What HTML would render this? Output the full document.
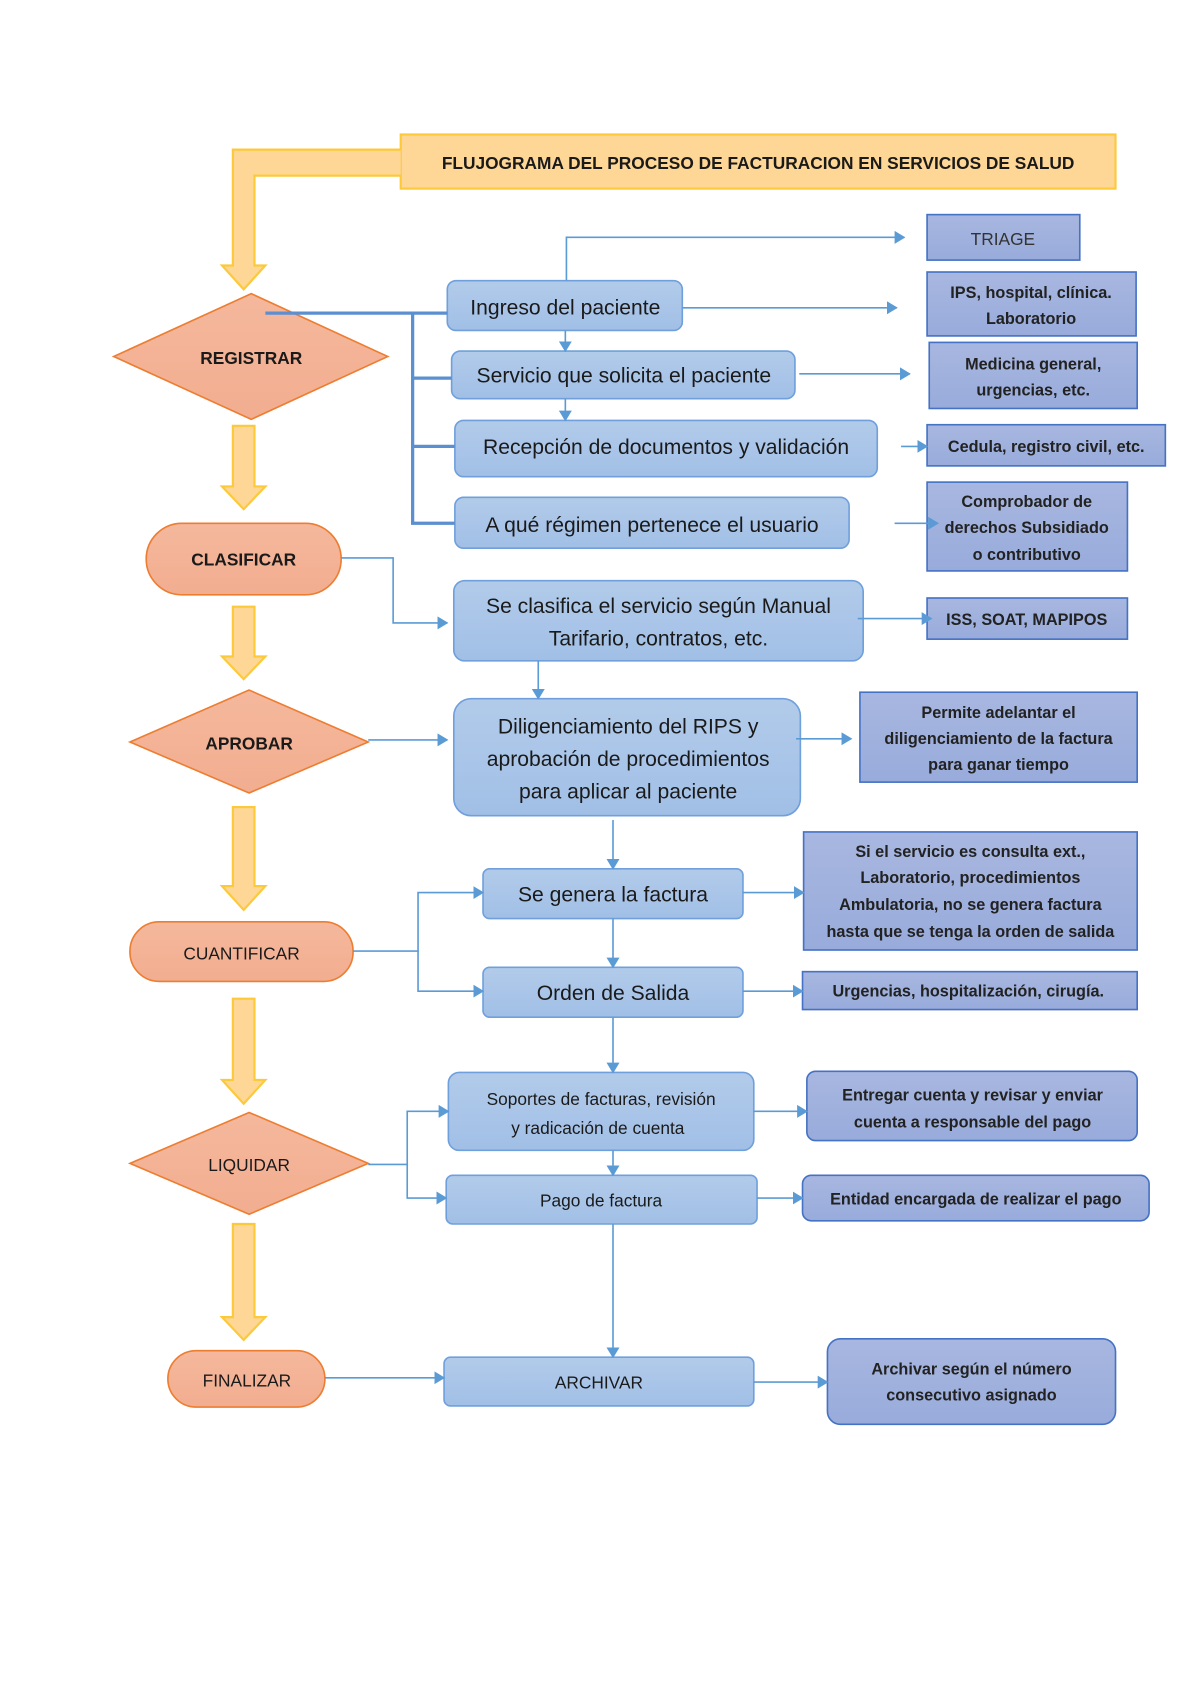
<!DOCTYPE html>
<html><head><meta charset="utf-8"><style>
html,body{margin:0;padding:0;background:#fff}
svg{display:block}
text{font-family:"Liberation Sans Narrow","Liberation Sans",sans-serif;text-anchor:middle;fill:#1a1a1a}
.m{font-size:19.5px}
.r{font-size:15px;font-weight:bold;fill:#222}
.l{font-size:16px}
</style></head><body>
<svg width="1200" height="1698" viewBox="0 0 1108 1567.5" xmlns="http://www.w3.org/2000/svg">
<defs>
<linearGradient id="gb" x1="0" y1="0" x2="0" y2="1"><stop offset="0" stop-color="#b2cbea"/><stop offset="1" stop-color="#a1bfe6"/></linearGradient>
<linearGradient id="gd" x1="0" y1="0" x2="0" y2="1"><stop offset="0" stop-color="#a8b7e0"/><stop offset="1" stop-color="#98abdb"/></linearGradient>
<linearGradient id="go" x1="0" y1="0" x2="0" y2="1"><stop offset="0" stop-color="#f5b89c"/><stop offset="1" stop-color="#f2ad90"/></linearGradient>
<marker id="a" markerWidth="10" markerHeight="12" refX="9" refY="6" orient="auto" markerUnits="userSpaceOnUse"><path d="M0,0 L10,6 L0,12 z" fill="#5b9bd5"/></marker>
</defs>

<rect x="370" y="124" width="660" height="50" fill="#fed695" stroke="#fcc93a" stroke-width="2"/>
<text x="700" y="156" style="font-size:16px;font-weight:bold;font-family:'Liberation Sans',sans-serif">FLUJOGRAMA DEL PROCESO DE FACTURACION EN SERVICIOS DE SALUD</text>
<path d="M370,138 L215,138 L215,245 L205,245 L225,267 L245,245 L235,245 L235,162 L370,162" fill="#fed695" stroke="#fcc93a" stroke-width="2"/>

<g fill="#fed695" stroke="#fcc93a" stroke-width="2">
<path d="M215,393 L235,393 L235,449 L245,449 L225,470 L205,449 L215,449 z"/>
<path d="M215,560 L235,560 L235,606 L245,606 L225,627 L205,606 L215,606 z"/>
<path d="M215,745 L235,745 L235,818 L245,818 L225,840 L205,818 L215,818 z"/>
<path d="M215,922 L235,922 L235,997 L245,997 L225,1019 L205,997 L215,997 z"/>
<path d="M215,1130 L235,1130 L235,1216 L245,1216 L225,1237 L205,1216 L215,1216 z"/>
</g>

<g fill="url(#go)" stroke="#ed7d31" stroke-width="1.5">
<path d="M232,271 L358,329 L232,387 L105,329 z"/>
<rect x="135" y="483" width="180" height="66" rx="33"/>
<path d="M230,637 L340,685 L230,732 L120,685 z"/>
<rect x="120" y="851" width="206" height="55" rx="27"/>
<path d="M230,1027 L340,1074 L230,1121 L120,1074 z"/>
<rect x="155" y="1247" width="145" height="52" rx="26"/>
</g>
<text x="232" y="336" class="l" style="font-weight:bold">REGISTRAR</text>
<text x="225" y="522" class="l" style="font-weight:bold">CLASIFICAR</text>
<text x="230" y="692" class="l" style="font-weight:bold">APROBAR</text>
<text x="223" y="886" class="l">CUANTIFICAR</text>
<text x="230" y="1081" class="l">LIQUIDAR</text>
<text x="228" y="1280" class="l">FINALIZAR</text>

<g fill="url(#gb)" stroke="#6fa0dc" stroke-width="1.5">
<rect x="413" y="259" width="217" height="46" rx="8"/>
<rect x="417" y="324" width="317" height="44" rx="8"/>
<rect x="420" y="388" width="390" height="52" rx="8"/>
<rect x="420" y="459" width="364" height="47" rx="8"/>
<rect x="419" y="536" width="378" height="74" rx="10"/>
<rect x="419" y="645" width="320" height="108" rx="16"/>
<rect x="446" y="802" width="240" height="46" rx="6"/>
<rect x="446" y="893" width="240" height="46" rx="6"/>
<rect x="414" y="990" width="282" height="72" rx="10"/>
<rect x="412" y="1085" width="287" height="45" rx="6"/>
<rect x="410" y="1253" width="286" height="45" rx="6"/>
</g>
<text x="522" y="290" class="m">Ingreso del paciente</text>
<text x="576" y="353" class="m">Servicio que solicita el paciente</text>
<text x="615" y="419" class="m">Recepción de documentos y validación</text>
<text x="602" y="491" class="m">A qué régimen  pertenece el usuario</text>
<text x="608" y="566" class="m">Se clasifica el servicio según Manual</text>
<text x="608" y="596" class="m">Tarifario, contratos, etc.</text>
<text x="580" y="677" class="m">Diligenciamiento del RIPS y</text>
<text x="580" y="707" class="m">aprobación de procedimientos</text>
<text x="580" y="737" class="m">para aplicar al paciente</text>
<text x="566" y="832" class="m">Se genera la factura</text>
<text x="566" y="923" class="m">Orden de Salida</text>
<text x="555" y="1020" class="l">Soportes de facturas, revisión</text>
<text x="552" y="1047" class="l">y radicación de cuenta</text>
<text x="555" y="1114" class="l">Pago de factura</text>
<text x="553" y="1282" class="l">ARCHIVAR</text>

<g fill="url(#gd)" stroke="#4472c4" stroke-width="1.5">
<rect x="856" y="198" width="141" height="42"/>
<rect x="856" y="251" width="193" height="59"/>
<rect x="858" y="316" width="192" height="61"/>
<rect x="856" y="392" width="220" height="38"/>
<rect x="856" y="445" width="185" height="82"/>
<rect x="856" y="552" width="185" height="38"/>
<rect x="794" y="639" width="256" height="83"/>
<rect x="742" y="768" width="308" height="109"/>
<rect x="741" y="897" width="309" height="35"/>
<rect x="745" y="989" width="305" height="64" rx="8"/>
<rect x="741" y="1085" width="320" height="42" rx="8"/>
<rect x="764" y="1236" width="266" height="79" rx="12"/>
</g>
<text x="926" y="226" class="l" style="fill:#333">TRIAGE</text>
<text x="952" y="275" class="r">IPS, hospital, clínica.</text>
<text x="952" y="299" class="r">Laboratorio</text>
<text x="954" y="341" class="r">Medicina general,</text>
<text x="954" y="365" class="r">urgencias, etc.</text>
<text x="966" y="417" class="r">Cedula, registro civil, etc.</text>
<text x="948" y="468" class="r">Comprobador de</text>
<text x="948" y="492" class="r">derechos Subsidiado</text>
<text x="948" y="517" class="r">o contributivo</text>
<text x="948" y="577" class="r">ISS, SOAT, MAPIPOS</text>
<text x="922" y="663" class="r">Permite adelantar el</text>
<text x="922" y="687" class="r">diligenciamiento de la factura</text>
<text x="922" y="711" class="r">para ganar tiempo</text>
<text x="896" y="791" class="r">Si el servicio es consulta ext.,</text>
<text x="896" y="815" class="r">Laboratorio, procedimientos</text>
<text x="896" y="840" class="r">Ambulatoria, no se genera factura</text>
<text x="896" y="865" class="r">hasta que se tenga la orden de salida</text>
<text x="894" y="920" class="r">Urgencias, hospitalización, cirugía.</text>
<text x="898" y="1016" class="r">Entregar cuenta y revisar y enviar</text>
<text x="898" y="1041" class="r">cuenta a responsable del pago</text>
<text x="901" y="1112" class="r">Entidad encargada de realizar el pago</text>
<text x="897" y="1269" class="r">Archivar según el número</text>
<text x="897" y="1293" class="r">consecutivo asignado</text>

<g stroke="#5b8fcf" stroke-width="3" fill="none">
<path d="M245,289 L413,289"/>
<path d="M381,289 L381,483 L420,483"/>
<path d="M381,349 L417,349"/>
<path d="M381,412 L420,412"/>
</g>

<g stroke="#5b9bd5" stroke-width="1.5" fill="none" marker-end="url(#a)">
<path d="M523,259 L523,219 L835,219"/>
<path d="M630,284 L828,284"/>
<path d="M738,345 L840,345"/>
<path d="M832,412 L856,412"/>
<path d="M826,483 L866,483"/>
<path d="M792,571 L860,571"/>
<path d="M735,682 L786,682"/>
<path d="M522,305 L522,324"/>
<path d="M522,368 L522,388"/>
<path d="M315,515 L363,515 L363,575 L413,575"/>
<path d="M497,610 L497,645"/>
<path d="M340,683 L413,683"/>
<path d="M566,757 L566,802"/>
<path d="M566,848 L566,893"/>
<path d="M326,878 L386,878 L386,824 L446,824"/>
<path d="M386,878 L386,915 L446,915"/>
<path d="M686,824 L742,824"/>
<path d="M686,915 L741,915"/>
<path d="M566,939 L566,990"/>
<path d="M340,1075 L376,1075 L376,1026 L414,1026"/>
<path d="M376,1075 L376,1106 L412,1106"/>
<path d="M696,1026 L745,1026"/>
<path d="M566,1062 L566,1085"/>
<path d="M699,1106 L741,1106"/>
<path d="M566,1130 L566,1253"/>
<path d="M300,1272 L410,1272"/>
<path d="M696,1276 L764,1276"/>
</g>
</svg>
</body></html>
